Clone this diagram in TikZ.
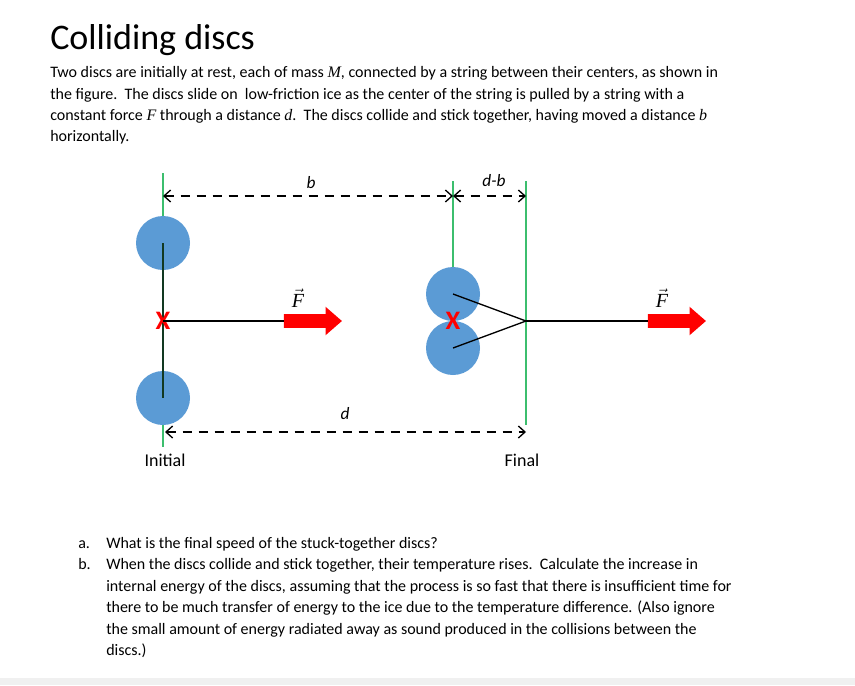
\documentclass[tikz,border=0pt]{standalone}
\usepackage{amsmath}
\usepackage{fontspec}
\setmainfont{Carlito}
\newfontfamily\mathser{Liberation Serif}
\newcommand{\mv}[1]{{\mathser\itshape #1}}
\usetikzlibrary{arrows.meta,shapes.arrows}
\definecolor{disc}{RGB}{91,155,213}
\definecolor{gline}{RGB}{60,190,110}
\tikzset{
 txt/.style={anchor=base west,inner sep=0pt,font=\fontsize{12}{14}\selectfont},
 discs/.style={circle,fill=disc,minimum size=40.5pt,inner sep=0pt},
 green/.style={draw=gline,line width=0.9pt},
 dim/.style={dashed,dash pattern=on 7pt off 5pt,line width=1pt,{Straight Barb[length=5pt,width=9pt]}-{Straight Barb[length=5pt,width=9pt]}},
 cross/.style={text=red,font=\fontsize{20}{20}\selectfont\bfseries,inner sep=0pt},
 force/.style={single arrow,fill=red,draw=none,minimum height=43.5pt,inner sep=4.9pt,single arrow head extend=5.6pt,single arrow tip angle=82},
 lab/.style={font=\fontsize{13}{15}\selectfont\itshape,inner sep=0pt}
}
\begin{document}
\begin{tikzpicture}[x=0.75pt,y=-0.75pt]
\useasboundingbox (0,0) rectangle (855,685);
\fill[gray!12] (0,678) rectangle (855,685);
\node[anchor=base west,inner sep=0pt,font=\fontsize{27}{30}\selectfont] (title) at (50,50) {Colliding discs};
\node[txt] (p1) at (50,78) {Two discs are initially at rest, each of mass \mv{M}, connected by a string between their centers, as shown in};
\node[txt] (p2) at (50,99) {the figure.\ \ The discs slide on \ low-friction ice as the center of the string is pulled by a string with a};
\node[txt] (p3) at (50,120) {constant force \mv{F} through a distance \mv{d}.\ \ The discs collide and stick together, having moved a distance \mv{b}};
\node[txt] (p4) at (50,141) {horizontally.};
% initial
\coordinate (g1t) at (163,173); \coordinate (g1b) at (163,447);
\draw[green] (g1t) -- (g1b);
\node[discs] (d1) at (163,243) {};
\node[discs] (d2) at (163,398) {};
\draw[line width=1.2pt,black!70!gline] (d1.center) -- (d2.center);
\node[cross] (x1) at (163,321) {X};
\node[force] (f1) at (309,321) {};
\draw[line width=1pt] (x1.center) -- (f1.west);
\node[font=\fontsize{15}{15}\selectfont,inner sep=0pt] (F1) at (298,298) {$\vec{\text{\mv{F}}}$};
% final
\coordinate (g2t) at (453,181);
\coordinate (g3t) at (526,181); \coordinate (g3b) at (526,425);
\node[discs] (d3) at (453,294) {};
\node[discs] (d4) at (453,348) {};
\draw[green] (g2t) -- (d3.north);
\draw[green] (g3t) -- (g3b);
\node[cross] (x2) at (453,321) {X};
\coordinate (knot) at (526,321);
\draw[line width=1pt] (d3.center) -- (knot) -- (d4.center);
\node[force] (f2) at (673,321) {};
\draw[line width=1pt] (knot) -- (f2.west);
\node[font=\fontsize{15}{15}\selectfont,inner sep=0pt] (F2) at (662,298) {$\vec{\text{\mv{F}}}$};
% dimensions
\coordinate (a1) at (163,196); \coordinate (a2) at (453,196); \coordinate (a3) at (526,196);
\draw[dim] (a1) -- (a2);
\draw[dim] (a2) -- (a3);
\node[lab] (b) at (311,183) {b};
\node[lab] (db) at (494,181) {d-b};
\coordinate (c1) at (165,432); \coordinate (c2) at (526,432);
\draw[dim] (c1) -- (c2);
\node[lab] (d) at (345,414) {d};
\node[anchor=center,inner sep=0pt,font=\fontsize{13.5}{15}\selectfont] (ini) at (165,460) {Initial};
\node[anchor=center,inner sep=0pt,font=\fontsize{13.5}{15}\selectfont] (fin) at (522,460) {Final};
% questions
\node[txt] (qa) at (78,548) {a.};
\node[txt] (qat) at (106,548) {What is the final speed of the stuck-together discs?};
\node[txt] (qb) at (78,569) {b.};
\node[txt] (qb1) at (106,569) {When the discs collide and stick together, their temperature rises.\ \ Calculate the increase in};
\node[txt] (qb2) at (106,591) {internal energy of the discs, assuming that the process is so fast that there is insufficient time for};
\node[txt] (qb3) at (106,612) {there to be much transfer of energy to the ice due to the temperature difference. (Also ignore};
\node[txt] (qb4) at (106,634) {the small amount of energy radiated away as sound produced in the collisions between the};
\node[txt] (qb5) at (106,655) {discs.)};
\end{tikzpicture}
\end{document}
